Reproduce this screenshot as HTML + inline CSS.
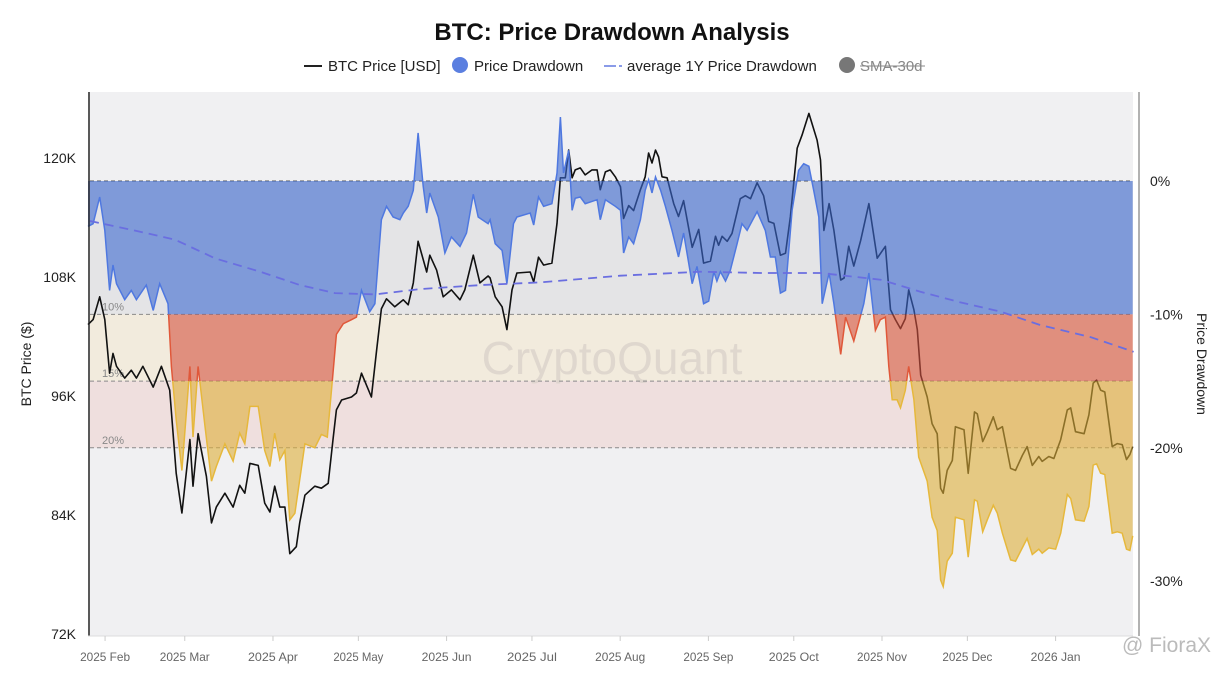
<!DOCTYPE html>
<html><head><meta charset="utf-8"><style>
body{margin:0;background:#fff;width:1219px;height:668px;overflow:hidden;font-family:"Liberation Sans",sans-serif}
svg text{font-family:"Liberation Sans",sans-serif}
</style></head><body>
<svg id="chart" width="1219" height="668" xmlns="http://www.w3.org/2000/svg">
<text x="612" y="40" text-anchor="middle" font-size="24" font-weight="bold" fill="#111">BTC: Price Drawdown Analysis</text>
<g font-size="15" fill="#222">
 <g><line x1="304" y1="66" x2="322" y2="66" stroke="#222" stroke-width="2"/><text x="328" y="71">BTC Price [USD]</text></g>
 <g><circle cx="460" cy="65" r="8" fill="#5b7fe0"/><text x="474" y="71">Price Drawdown</text></g>
 <g><line x1="604" y1="66" x2="616" y2="66" stroke="#8a9be8" stroke-width="2"/><line x1="619" y1="66" x2="622" y2="66" stroke="#8a9be8" stroke-width="2"/><text x="627" y="71">average 1Y Price Drawdown</text></g>
 <g><circle cx="847" cy="65" r="8" fill="#777"/><text x="860" y="71" fill="#888">SMA-30d</text><line x1="860" y1="66" x2="925" y2="66" stroke="#888" stroke-width="1"/></g>
</g>
<g id="plot"></g>
</svg>
<script>
const priceDays=[0,1.8,4.1,5.9,7.6,8.8,10,12.9,15.2,17,19.3,22.9,25.8,28.7,31,33,35.8,36.9,38.7,41.6,43.4,45.1,48.1,51,53.3,55.1,56.9,59.8,62.1,63.9,65.6,67.4,69.2,70.9,73.2,74.4,76.2,79.7,82,84.4,86.1,87.3,89.1,92.6,94.3,96.1,99.6,101.4,103.1,104.9,107.8,110.8,112.5,114.3,116,119,120.1,122.5,124.8,127.7,130.7,132.4,135.4,137.7,140.6,141.3,143.1,145.5,147.2,149,150.7,155.4,156.6,158.3,160.1,163,164.8,166,167.7,168.9,170.1,171.2,173,174.7,177.1,178.9,180,181.8,183.5,185.3,187.1,188.2,190,191.7,194.1,195.8,197,198.2,199.4,200.5,201.7,203.5,205.8,207.5,209.3,212.3,214.6,216.3,218.7,220.5,221.6,222.8,224.6,226.3,229.2,231,232.8,235.1,237.4,239.2,241,243.3,245.1,246.8,249.2,250.9,253.3,256.2,257.4,258.6,260.4,262.1,264.5,265.7,267.3,269.1,271.5,274.4,277.3,280.2,282,283.7,285.5,287.2,288.4,290.2,291.4,292.6,294.9,296.6,298.4,299.6,300.5,301.9,303.7,304.8,307.8,309.3,311.5,312.5,314.4,316,318.1,319.5,321.3,324.2,325.9,328.3,330,331.8,334.1,335.3,337.6,339.4,341.8,344.1,345.3,347,350,351.7,353.2,354.4,355.8,357.3,359.9,361.7,363.4,364.9,366.1,367.1];
const priceK=[103.2,103.7,106.0,103.7,98.3,100.3,99.0,97.8,98.6,97.8,99.0,96.9,99.0,96.6,88.2,84.2,91.6,86.9,92.2,87.9,83.2,84.8,86.2,84.8,87.0,86.2,89.2,89.0,85.2,84.3,86.9,84.8,84.8,80.1,80.8,83.2,86.0,86.9,86.7,87.2,91.6,94.6,95.6,95.9,96.3,98.3,95.9,100.6,104.8,105.8,105.0,105.7,105.2,107.4,111.6,108.5,110.2,108.7,106.0,106.7,105.7,106.7,110.2,107.4,108.1,107.9,106.0,105.0,102.7,106.7,108.4,108.5,107.5,110.0,109.2,109.4,113.4,118.0,118.0,120.8,118.0,118.8,119.0,118.3,118.8,118.8,116.8,118.6,118.8,118.1,117.1,113.9,115.2,114.7,116.8,118.1,120.5,119.5,120.8,120.1,118.1,118.0,115.4,114.1,115.7,111.0,112.8,109.4,109.6,112.1,111.2,112.1,111.6,112.4,115.9,116.2,115.9,117.5,116.2,113.6,113.4,110.2,110.4,114.1,121.0,122.3,124.5,121.8,119.8,112.7,115.4,112.7,107.7,107.9,111.1,109.1,111.7,115.4,109.9,111.1,104.7,103.7,102.8,103.8,106.7,104.7,102.7,98.1,95.9,93.2,92.2,86.7,86.2,88.5,89.5,92.9,92.6,88.2,94.4,94.2,91.4,92.4,93.9,92.6,92.9,88.7,88.5,90.0,90.9,89.0,89.9,89.4,89.9,89.7,91.6,94.6,94.8,92.4,92.2,94.1,97.3,97.6,96.6,96.4,90.9,91.2,91.1,89.6,90.1,90.9];
const ddDays=[0,1.8,4.1,5.9,7.6,8.8,10,12.9,15.2,17,20.5,22.9,25.2,28.1,29.3,31,33,35.8,36.9,38.7,41,43.4,45.1,48.1,51,53.3,55.1,56.9,59.8,62.1,63.9,65.6,67.4,69.2,70.9,72.7,76.2,79.7,82,84.1,86.1,87.3,89.7,92.6,94.3,96.1,99,100.8,103.1,104.9,107.2,109.6,110.8,112.5,114.3,116,117.8,119,120.1,123.1,125.4,127.7,130.7,133,135.4,137.1,140.6,141.3,143.1,145.5,147.2,149.5,150.7,155.4,156.6,158.3,160.1,163,164.8,166,167.1,168.9,170.1,171.2,173,174.7,178.9,180,181.8,185.3,187.1,188.2,190,191.7,194.1,195.8,197,198.2,199.4,201.2,202.9,205.2,207.5,209.3,212.3,214,216.3,218.1,219.9,221,222.2,224,225.7,228.1,229.8,231.6,235.1,238,239.8,241.5,243.3,245.1,247.4,249.7,251.5,253.3,255,256.8,258,260.4,262.1,264.5,266.2,269.1,272.6,274.4,276.7,278.4,280.2,281.4,282.6,284.3,285.5,287.2,288.4,290.2,291.9,294.9,296.6,298.4,299.6,300.5,301.9,303.7,304.8,307.8,309.3,311.5,312.5,314.4,316,318.1,319.5,321.3,324.2,325.9,328.3,330,331.8,334.1,335.3,337.6,340,341.8,344.1,345.3,347,350,351.7,353.2,354.4,355.8,357.3,359.9,361.7,363.4,364.9,366.1,367.1];
const ddPct=[-3.4,-3.2,-1.2,-3.7,-8.2,-6.3,-7.7,-8.9,-8.2,-8.9,-7.8,-9.7,-7.7,-9.2,-13.9,-17.9,-21.7,-13.9,-19.2,-13.9,-18.2,-22.5,-21.4,-19.7,-21.0,-18.9,-19.7,-16.9,-16.9,-20.2,-21.4,-18.9,-20.9,-20.2,-25.4,-24.9,-19.7,-20.0,-19.0,-19.2,-14.4,-11.5,-10.7,-10.4,-10.2,-8.2,-9.8,-9.2,-2.9,-1.9,-2.7,-2.9,-2.4,-1.9,-0.7,3.6,-0.4,-2.4,-0.9,-2.7,-5.4,-4.2,-4.9,-3.9,-1.0,-2.7,-3.2,-2.9,-4.7,-5.2,-7.7,-3.2,-2.7,-2.4,-3.3,-1.2,-1.9,-1.7,0.6,4.8,0.6,2.3,-2.2,-1.3,-1.2,-1.7,-1.4,-2.9,-1.4,-1.9,-2.2,-5.4,-4.2,-4.7,-2.9,-0.7,0.1,-0.9,0.3,-0.7,-1.9,-3.7,-5.7,-3.9,-7.7,-6.4,-9.2,-9.0,-6.8,-7.5,-6.8,-7.5,-6.7,-4.7,-3.2,-3.7,-2.3,-3.7,-5.7,-5.7,-8.4,-8.2,-2.2,0.8,1.3,1.1,-0.7,-2.7,-9.2,-6.9,-9.2,-13.0,-10.2,-12.0,-9.2,-6.9,-11.2,-10.4,-10.2,-13.9,-16.4,-16.4,-17.0,-15.7,-13.9,-16.4,-20.7,-22.5,-25.2,-26.2,-29.9,-30.4,-28.5,-27.9,-25.2,-25.4,-28.2,-23.9,-24.0,-26.3,-25.4,-24.3,-24.9,-26.4,-28.4,-28.5,-27.5,-26.8,-28.0,-27.6,-27.9,-27.5,-27.6,-26.4,-23.5,-23.8,-25.4,-25.5,-24.4,-21.3,-21.2,-21.9,-22.0,-26.4,-26.3,-26.4,-27.6,-27.7,-26.6];
const avgDays=[0.7,18.3,30.6,44.7,60.5,74.5,86.8,100.9,116.7,137.8,158.9,187,215.2,236.3,257.4,278.5,292.5,306.6,320.7,334.7,352.3,367.4];
const avgPct=[-3.0,-3.8,-4.4,-5.8,-6.8,-7.8,-8.4,-8.5,-8.1,-7.8,-7.6,-7.1,-6.8,-6.9,-6.9,-7.4,-8.3,-9.1,-9.8,-10.8,-11.7,-12.8];
const priceTicks=[72,84,96,108,120];
const ddTicks=[0,-10,-20,-30];
const zoneLines=[-10,-15,-20];
const monthLabels=["2025 Feb","2025 Mar","2025 Apr","2025 May","2025 Jun","2025 Jul","2025 Aug","2025 Sep","2025 Oct","2025 Nov","2025 Dec","2026 Jan"];
const monthDays=[6,34,65,95,126,156,187,218,248,279,309,340];

const L=88,R=1133,T=92,B=636,DMAX=367.2;
const xS=d=>L+d*(R-L)/DMAX;
const yP=k=>634-(k-72)*476/48;
const yD=p=>181-p*13.34;
const NS="http://www.w3.org/2000/svg";
const plot=document.getElementById('plot');
function mk(tag,attrs,parent){const e=document.createElementNS(NS,tag);for(const k in attrs)e.setAttribute(k,attrs[k]);(parent||plot).appendChild(e);return e;}

// backgrounds
let e;
e=mk('rect',{x:L+2,y:T,width:R-L-2,height:B-T,fill:'#f0f0f2'});


e=mk('rect',{x:L+2,y:yD(0),width:R-L-2,height:yD(-10)-yD(0),fill:'#e4e4e6'});


e=mk('rect',{x:L+2,y:yD(-10),width:R-L-2,height:yD(-15)-yD(-10),fill:'#f2ebdd'});


e=mk('rect',{x:L+2,y:yD(-15),width:R-L-2,height:yD(-20)-yD(-15),fill:'#efdfde'});



// watermark
e=mk('text',{x:612,y:374,'text-anchor':'middle','font-size':46,fill:'#d8d0c8','fill-opacity':0.75});
e.textContent='CryptoQuant';



// zone lines
e=mk('line',{x1:L+2,x2:R,y1:yD(0),y2:yD(0),stroke:'#555','stroke-dasharray':'4,3'});


zoneLines.forEach(z=>{
 const l=mk('line',{x1:L+2,x2:R,y1:yD(z),y2:yD(z),stroke:'#8a8a8a','stroke-dasharray':'4,3'});
 
 
 const t=mk('text',{x:102,y:yD(z)-4,'font-size':11,fill:'#888'});
 t.textContent=(-z)+'%';
 
 
});

// price line (under fills)
let pd=priceDays.map((d,i)=>(i?'L':'M')+xS(d).toFixed(1)+','+yP(priceK[i]).toFixed(1)).join('');
e=mk('path',{d:pd,fill:'none',stroke:'#111','stroke-width':1.6,'stroke-linejoin':'round'});



// clips
const defs=mk('defs',{});
const zones=[[0,yD(-10),'rgba(60,105,208,0.6)','#4f78e0','blue'],[yD(-10),yD(-15),'rgba(212,82,64,0.6)','#e0583a','red'],[yD(-15),668,'rgba(221,175,57,0.6)','#e6b83c','yellow']];
zones.forEach((z,i)=>{const c=mk('clipPath',{id:'zc'+i},defs);mk('rect',{x:0,y:z[0],width:1219,height:z[1]-z[0]},c);});
const dline=ddDays.map((d,i)=>(i?'L':'M')+xS(d).toFixed(1)+','+yD(ddPct[i]).toFixed(1)).join('');
const darea=dline+'L'+xS(ddDays[ddDays.length-1]).toFixed(1)+','+yD(0)+'L'+xS(ddDays[0]).toFixed(1)+','+yD(0)+'Z';
zones.forEach((z,i)=>{
 const a=mk('path',{d:darea,fill:z[2],'clip-path':'url(#zc'+i+')'});
 
 
 const s=mk('path',{d:dline,fill:'none',stroke:z[3],'stroke-width':1.5,'clip-path':'url(#zc'+i+')'});
 
 
});

// average line
let ad=avgDays.map((d,i)=>(i?'L':'M')+xS(d).toFixed(1)+','+yD(avgPct[i]).toFixed(1)).join('');
e=mk('path',{d:ad,fill:'none',stroke:'#6a6ee0','stroke-width':1.8,'stroke-dasharray':'9,6'});



// axes
e=mk('line',{x1:89,x2:89,y1:T,y2:B,stroke:'#222','stroke-width':1.5});


e=mk('line',{x1:1139,x2:1139,y1:T,y2:B,stroke:'#999','stroke-width':1.5});


e=mk('line',{x1:L,x2:R,y1:B,y2:B,stroke:'#ddd'});


priceTicks.forEach(k=>{
 const t=mk('text',{x:76,y:yP(k)+5,'text-anchor':'end','font-size':14,fill:'#222'});
 t.textContent=k+'K';
 
 
});
ddTicks.forEach(p=>{
 const t=mk('text',{x:1150,y:yD(p)+5,'font-size':14,fill:'#222'});
 t.textContent=p+'%';
 
 
});
monthDays.forEach((d,i)=>{
 const tk=mk('line',{x1:xS(d),x2:xS(d),y1:B,y2:B+5,stroke:'#ccc'});
 
 
 const t=mk('text',{x:xS(d),y:661,'text-anchor':'middle','font-size':12,fill:'#666',textLength:50,lengthAdjust:'spacingAndGlyphs'});
 t.textContent=monthLabels[i];
 
 
});
e=mk('text',{x:0,y:0,'text-anchor':'middle','font-size':14,fill:'#222',transform:'translate(31,364) rotate(-90)'});
e.textContent='BTC Price ($)';


e=mk('text',{x:0,y:0,'text-anchor':'middle','font-size':14,fill:'#222',transform:'translate(1197,364) rotate(90)'});
e.textContent='Price Drawdown';


e=mk('text',{x:1122,y:652,'font-size':21,fill:'#bbb'});
e.textContent='@ FioraX';


</script>
</body></html>
